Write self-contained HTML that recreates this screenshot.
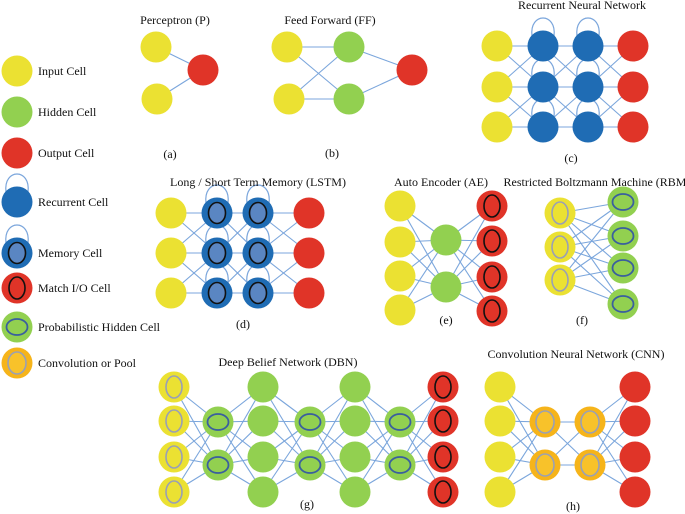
<!DOCTYPE html>
<html><head><meta charset="utf-8">
<style>
html,body{margin:0;padding:0;background:#fff;}
svg{display:block;}
text{font-family:"Liberation Serif",serif;font-size:12px;fill:#111;}
</style></head>
<body>
<svg id="fig" width="685" height="514" viewBox="0 0 685 514" xmlns="http://www.w3.org/2000/svg">
<g id="edges"></g>
<g id="loops"></g>
<g id="nodes"></g>
<g id="labels"></g>
</svg>
<script>
const NS="http://www.w3.org/2000/svg";
const C={yel:"#ebe132",grn:"#92d050",red:"#e03428",blu:"#1f6cb4",mem:"#5a86c2",org:"#f6b41a",orgIn:"#f8c22a",line:"#7ba6dc"};
const R=15.5;
const eG=document.getElementById('edges'),lG=document.getElementById('loops'),nG=document.getElementById('nodes'),tG=document.getElementById('labels');
function mk(tag,attrs,parent){const e=document.createElementNS(NS,tag);for(const k in attrs)e.setAttribute(k,attrs[k]);parent.appendChild(e);return e;}
function node(x,y,type){
  const g=mk('g',{},nG);
  
  
  let fill={input:C.yel,hidden:C.grn,output:C.red,recurrent:C.blu,memory:C.blu,match:C.red,prob:C.grn,probin:C.yel,conv:C.org}[type];
  mk('circle',{cx:x,cy:y,r:R,fill:fill},g);
  if(type==='memory'){mk('ellipse',{cx:x,cy:y,rx:8.5,ry:10.5,fill:C.mem,stroke:'#111','stroke-width':1.6},g);}
  if(type==='match'){mk('ellipse',{cx:x,cy:y,rx:8,ry:11,fill:'none',stroke:'#111','stroke-width':1.6},g);}
  if(type==='prob'){mk('ellipse',{cx:x,cy:y,rx:10.5,ry:8,fill:'none',stroke:'#3a5f9e','stroke-width':1.8},g);}
  if(type==='probin'){mk('ellipse',{cx:x,cy:y,rx:8,ry:11,fill:'none',stroke:'#9aa0b4','stroke-width':1.6},g);}
  if(type==='conv'){mk('ellipse',{cx:x,cy:y,rx:9,ry:11,fill:C.orgIn,stroke:'#9aa0b4','stroke-width':1.6},g);}
  if(type==='recurrent'||type==='memory')loop(x,y);
}
function loop(x,y){
  const p=mk('path',{d:`M${x-11} ${y-10} C${x-14} ${y-34} ${x+14} ${y-34} ${x+11} ${y-10}`,fill:'none',stroke:C.line,'stroke-width':1.2},lG);
  
  
}
function edge(a,b){
  const l=mk('line',{x1:a[0],y1:a[1],x2:b[0],y2:b[1],stroke:C.line,'stroke-width':1.1},eG);
  
  
}
function label(x,y,s,name,anchor){
  const t=mk('text',{x:x,y:y,'text-anchor':anchor||'middle'},tG);
  t.textContent=s;
  
  
}
function full(A,B){A.forEach(a=>B.forEach(b=>edge(a,b)));}
function col(x,ys){return ys.map(y=>[x,y]);}
function layers(L){for(let i=0;i<L.length-1;i++)full(L[i].pts,L[i+1].pts);L.forEach(l=>l.pts.forEach(p=>node(p[0],p[1],l.type)));}
function rnnEdges(L){ // straight + diagonal neighbours
  for(let i=0;i<L.length-1;i++){const A=L[i].pts,B=L[i+1].pts;
    A.forEach((a,j)=>{[j-1,j,j+1].forEach(k=>{if(B[k])edge(a,B[k]);});});}
  L.forEach(l=>l.pts.forEach(p=>node(p[0],p[1],l.type)));
}

// Legend
const legendItems=[["input",71,"Input Cell"],["hidden",112,"Hidden Cell"],["output",153,"Output Cell"],["recurrent",202,"Recurrent Cell"],["memory",253,"Memory  Cell"],["match",288,"Match  I/O Cell"],["prob",327,"Probabilistic  Hidden Cell"],["conv",363,"Convolution or Pool"]];
legendItems.forEach(it=>{node(17,it[1],it[0]);label(38,it[1]+4,it[2],'legend-'+it[0],'start');});

// (a) Perceptron
layers([{type:'input',pts:[[156,47],[157,99]]},{type:'output',pts:[[203,70]]}]);
label(175,24,"Perceptron (P)","title-perceptron");label(170,158,"(a)","label-a");
// (b) Feed forward
layers([{type:'input',pts:[[287,47],[289,99]]},{type:'hidden',pts:[[349,47],[349,99]]},{type:'output',pts:[[412,70]]}]);
label(330,24,"Feed Forward (FF)","title-feed-forward");label(332,157,"(b)","label-b");
// (c) RNN
rnnEdges([{type:'input',pts:col(497,[46,87,127])},{type:'recurrent',pts:col(543,[46,87,127])},{type:'recurrent',pts:col(588,[46,87,127])},{type:'output',pts:col(633,[46,87,127])}]);
label(582,9,"Recurrent Neural Network","title-rnn");label(571,162,"(c)","label-c");
// (d) LSTM
rnnEdges([{type:'input',pts:col(171,[213,253,293])},{type:'memory',pts:col(217,[213,253,293])},{type:'memory',pts:col(258,[213,253,293])},{type:'output',pts:col(309,[213,253,293])}]);
label(258,186,"Long / Short Term Memory  (LSTM)","title-lstm");label(243,328,"(d)","label-d");
// (e) AE
layers([{type:'input',pts:col(400,[206,242,276,310])},{type:'hidden',pts:col(446,[240,287])},{type:'match',pts:col(492,[206,241,277,311])}]);
label(441,186,"Auto Encoder (AE)","title-autoencoder");label(446,324,"(e)","label-e");
// (f) RBM
layers([{type:'probin',pts:col(560,[213,247,280])},{type:'prob',pts:col(623,[202,236,268,304])}]);
label(597,186,"Restricted Boltzmann Machine (RBM)","title-rbm");label(582,324,"(f)","label-f");
// (g) DBN
const r4=[387,421,457,492],r2=[422,465];
layers([{type:'probin',pts:col(174,r4)},{type:'prob',pts:col(218,r2)},{type:'hidden',pts:col(263,r4)},{type:'prob',pts:col(310,r2)},{type:'hidden',pts:col(355,r4)},{type:'prob',pts:col(400,r2)},{type:'match',pts:col(443,r4)}]);
label(288,366,"Deep Belief  Network (DBN)","title-dbn");label(307,508,"(g)","label-g");
// (h) CNN
layers([{type:'input',pts:col(500,r4)},{type:'conv',pts:col(545,r2)},{type:'conv',pts:col(590,r2)},{type:'output',pts:col(635,r4)}]);
label(576,358,"Convolution Neural Network (CNN)","title-cnn");label(573,510,"(h)","label-h");
</script>
</body></html>
